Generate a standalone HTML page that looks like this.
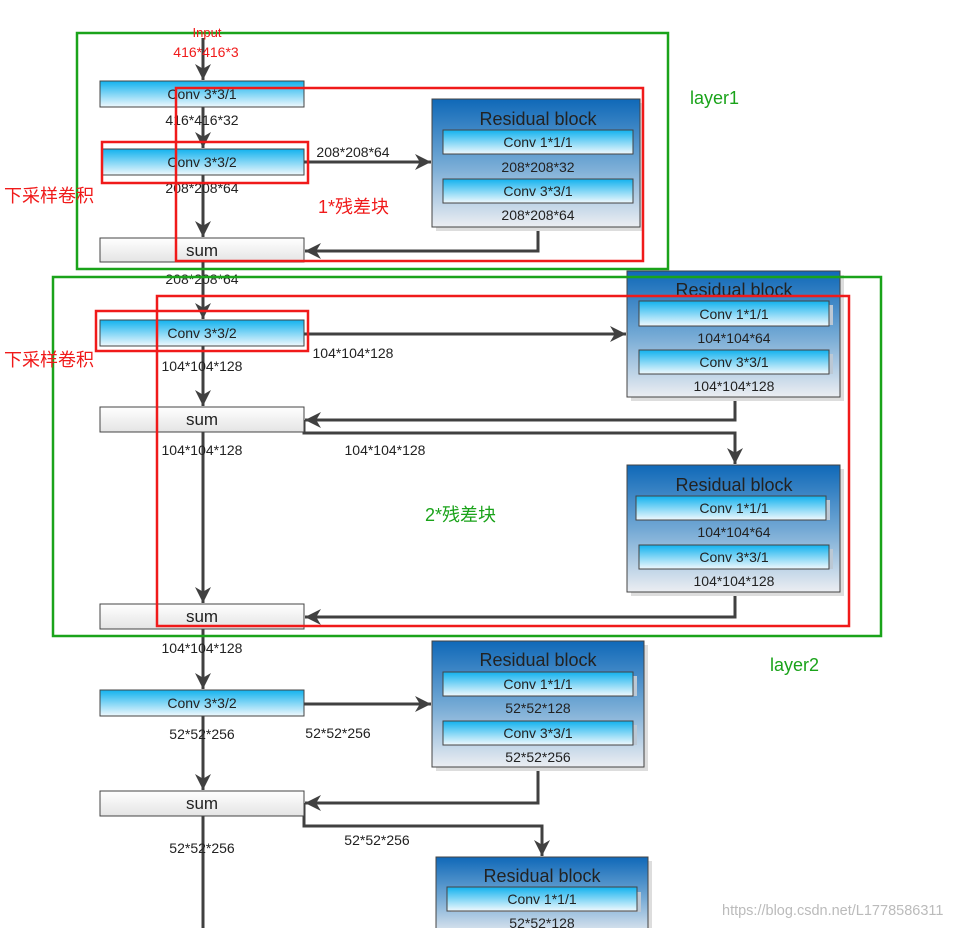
<!DOCTYPE html>
<html><head><meta charset="utf-8"><style>body{margin:0;background:#fff}svg{display:block}</style></head><body>
<svg width="971" height="928" viewBox="0 0 971 928" font-family="'Liberation Sans','Noto Sans CJK SC',sans-serif">
<defs>
<linearGradient id="rb" x1="0" y1="0" x2="0" y2="1"><stop offset="0" stop-color="#0f68b8"/><stop offset="0.5" stop-color="#72a8d4"/><stop offset="1" stop-color="#eceef2"/></linearGradient>
<linearGradient id="cv" x1="0" y1="0" x2="0" y2="1"><stop offset="0" stop-color="#12b2ee"/><stop offset="1" stop-color="#f0f9fd"/></linearGradient>
<linearGradient id="sm" x1="0" y1="0" x2="0" y2="1"><stop offset="0" stop-color="#ffffff"/><stop offset="1" stop-color="#e4e4e4"/></linearGradient>
<marker id="a" viewBox="0 0 10 10" refX="10" refY="5" markerWidth="16" markerHeight="16" orient="auto" markerUnits="userSpaceOnUse"><path d="M0,0 L10,5 L0,10 L3,5 z" fill="#404040"/></marker>
</defs>
<g stroke="#404040" stroke-width="3" fill="none">
<line x1="203" y1="38" x2="203" y2="80" marker-end="url(#a)"/>
<line x1="203" y1="107" x2="203" y2="148" marker-end="url(#a)"/>
<line x1="203" y1="175" x2="203" y2="237" marker-end="url(#a)"/>
<line x1="304" y1="162" x2="431" y2="162" marker-end="url(#a)"/>
<polyline points="538,227 538,251 305,251" marker-end="url(#a)"/>
<line x1="203" y1="262" x2="203" y2="319" marker-end="url(#a)"/>
<line x1="304" y1="334" x2="626" y2="334" marker-end="url(#a)"/>
<line x1="203" y1="346" x2="203" y2="406" marker-end="url(#a)"/>
<polyline points="735,397 735,420 305,420" marker-end="url(#a)"/>
<polyline points="304,420 304,433 735,433 735,464" marker-end="url(#a)"/>
<line x1="203" y1="432" x2="203" y2="603" marker-end="url(#a)"/>
<polyline points="735,592 735,617 305,617" marker-end="url(#a)"/>
<line x1="203" y1="629" x2="203" y2="689" marker-end="url(#a)"/>
<line x1="304" y1="704" x2="431" y2="704" marker-end="url(#a)"/>
<line x1="203" y1="716" x2="203" y2="790" marker-end="url(#a)"/>
<polyline points="538,767 538,803 305,803" marker-end="url(#a)"/>
<polyline points="304,803 304,826 542,826 542,856" marker-end="url(#a)"/>
<line x1="203" y1="816" x2="203" y2="928"/>
</g>
<g font-size="14" fill="#222" text-anchor="middle">
<g stroke="#444" stroke-width="1">
<rect x="100" y="81" width="204" height="26" fill="url(#cv)"/>
<rect x="102" y="149" width="202" height="26" fill="url(#cv)"/>
<rect x="100" y="238" width="204" height="24" fill="url(#sm)"/>
<rect x="100" y="320" width="204" height="26" fill="url(#cv)"/>
<rect x="100" y="407" width="204" height="25" fill="url(#sm)"/>
<rect x="100" y="604" width="204" height="25" fill="url(#sm)"/>
<rect x="100" y="690" width="204" height="26" fill="url(#cv)"/>
<rect x="100" y="791" width="204" height="25" fill="url(#sm)"/>
</g>
<text x="202" y="99">Conv 3*3/1</text>
<text x="202" y="167">Conv 3*3/2</text>
<text x="202" y="256" font-size="17">sum</text>
<text x="202" y="338">Conv 3*3/2</text>
<text x="202" y="425" font-size="17">sum</text>
<text x="202" y="622" font-size="17">sum</text>
<text x="202" y="708">Conv 3*3/2</text>
<text x="202" y="809" font-size="17">sum</text>
<text x="202" y="125">416*416*32</text>
<text x="202" y="193">208*208*64</text>
<text x="353" y="157">208*208*64</text>
<text x="202" y="284">208*208*64</text>
<text x="353" y="358">104*104*128</text>
<text x="202" y="371">104*104*128</text>
<text x="202" y="455">104*104*128</text>
<text x="385" y="455">104*104*128</text>
<text x="202" y="653">104*104*128</text>
<text x="202" y="739">52*52*256</text>
<text x="338" y="738">52*52*256</text>
<text x="377" y="845">52*52*256</text>
<text x="202" y="853">52*52*256</text>
</g>
<g font-size="14" fill="#222" text-anchor="middle">
<g transform="translate(432,99)">
<rect x="4" y="4" width="208" height="128" fill="#ddd"/>
<rect width="208" height="128" fill="url(#rb)" stroke="#444"/>
<text x="106" y="26" font-size="18">Residual block</text>
<rect x="15" y="35" width="186" height="20" fill="#bcc8d4"/><rect x="11" y="31" width="190" height="24" fill="url(#cv)" stroke="#444"/>
<text x="106" y="48">Conv 1*1/1</text><text x="106" y="73">208*208*32</text>
<rect x="15" y="84" width="186" height="20" fill="#bcc8d4"/><rect x="11" y="80" width="190" height="24" fill="url(#cv)" stroke="#444"/>
<text x="106" y="97">Conv 3*3/1</text><text x="106" y="121">208*208*64</text>
</g>
<g transform="translate(627,271)">
<rect x="4" y="4" width="213" height="126" fill="#ddd"/>
<rect width="213" height="126" fill="url(#rb)" stroke="#444"/>
<text x="107" y="25" font-size="18">Residual block</text>
<rect x="16" y="34" width="190" height="20" fill="#bcc8d4"/><rect x="12" y="30" width="190" height="25" fill="url(#cv)" stroke="#444"/>
<text x="107" y="48">Conv 1*1/1</text><text x="107" y="72">104*104*64</text>
<rect x="16" y="83" width="190" height="20" fill="#bcc8d4"/><rect x="12" y="79" width="190" height="24" fill="url(#cv)" stroke="#444"/>
<text x="107" y="96">Conv 3*3/1</text><text x="107" y="120">104*104*128</text>
</g>
<g transform="translate(627,465)">
<rect x="4" y="4" width="213" height="127" fill="#ddd"/>
<rect width="213" height="127" fill="url(#rb)" stroke="#444"/>
<text x="107" y="26" font-size="18">Residual block</text>
<rect x="13" y="35" width="190" height="20" fill="#bcc8d4"/><rect x="9" y="31" width="190" height="24" fill="url(#cv)" stroke="#444"/>
<text x="107" y="48">Conv 1*1/1</text><text x="107" y="72">104*104*64</text>
<rect x="16" y="84" width="190" height="20" fill="#bcc8d4"/><rect x="12" y="80" width="190" height="24" fill="url(#cv)" stroke="#444"/>
<text x="107" y="97">Conv 3*3/1</text><text x="107" y="121">104*104*128</text>
</g>
<g transform="translate(432,641)">
<rect x="4" y="4" width="212" height="126" fill="#ddd"/>
<rect width="212" height="126" fill="url(#rb)" stroke="#444"/>
<text x="106" y="25" font-size="18">Residual block</text>
<rect x="15" y="35" width="190" height="20" fill="#bcc8d4"/><rect x="11" y="31" width="190" height="24" fill="url(#cv)" stroke="#444"/>
<text x="106" y="48">Conv 1*1/1</text><text x="106" y="72">52*52*128</text>
<rect x="15" y="84" width="190" height="20" fill="#bcc8d4"/><rect x="11" y="80" width="190" height="24" fill="url(#cv)" stroke="#444"/>
<text x="106" y="97">Conv 3*3/1</text><text x="106" y="121">52*52*256</text>
</g>
<g transform="translate(436,857)">
<rect x="4" y="4" width="212" height="80" fill="#ddd"/>
<rect width="212" height="80" fill="url(#rb)" stroke="#444"/>
<text x="106" y="25" font-size="18">Residual block</text>
<rect x="15" y="35" width="190" height="20" fill="#bcc8d4"/><rect x="11" y="30" width="190" height="24" fill="url(#cv)" stroke="#444"/>
<text x="106" y="47">Conv 1*1/1</text><text x="106" y="71">52*52*128</text>
</g>
</g>
<g fill="none" stroke-width="2.5">
<rect x="77" y="33" width="591" height="236" stroke="#1aa31a"/>
<rect x="53" y="277" width="828" height="359" stroke="#1aa31a"/>
<rect x="176" y="88" width="467" height="173" stroke="#f01a1a"/>
<rect x="102" y="142" width="206" height="41" stroke="#f01a1a"/>
<rect x="157" y="296" width="692" height="330" stroke="#f01a1a"/>
<rect x="96" y="311" width="212" height="40" stroke="#f01a1a"/>
</g>
<g fill="#f01a1a">
<text x="207" y="37" font-size="13" text-anchor="middle">Input</text>
<text x="206" y="57" font-size="14" text-anchor="middle">416*416*3</text>
<text x="4" y="202" font-size="18">下采样卷积</text>
<text x="4" y="366" font-size="18">下采样卷积</text>
<text x="318" y="213" font-size="18">1*残差块</text>
</g>
<g fill="#1aa31a" font-size="18">
<text x="690" y="104">layer1</text>
<text x="425" y="521">2*残差块</text>
<text x="770" y="671">layer2</text>
</g>
<text x="722" y="915" font-size="14.5" fill="#bbb">https://blog.csdn.net/L1778586311</text>
</svg>
</body></html>
